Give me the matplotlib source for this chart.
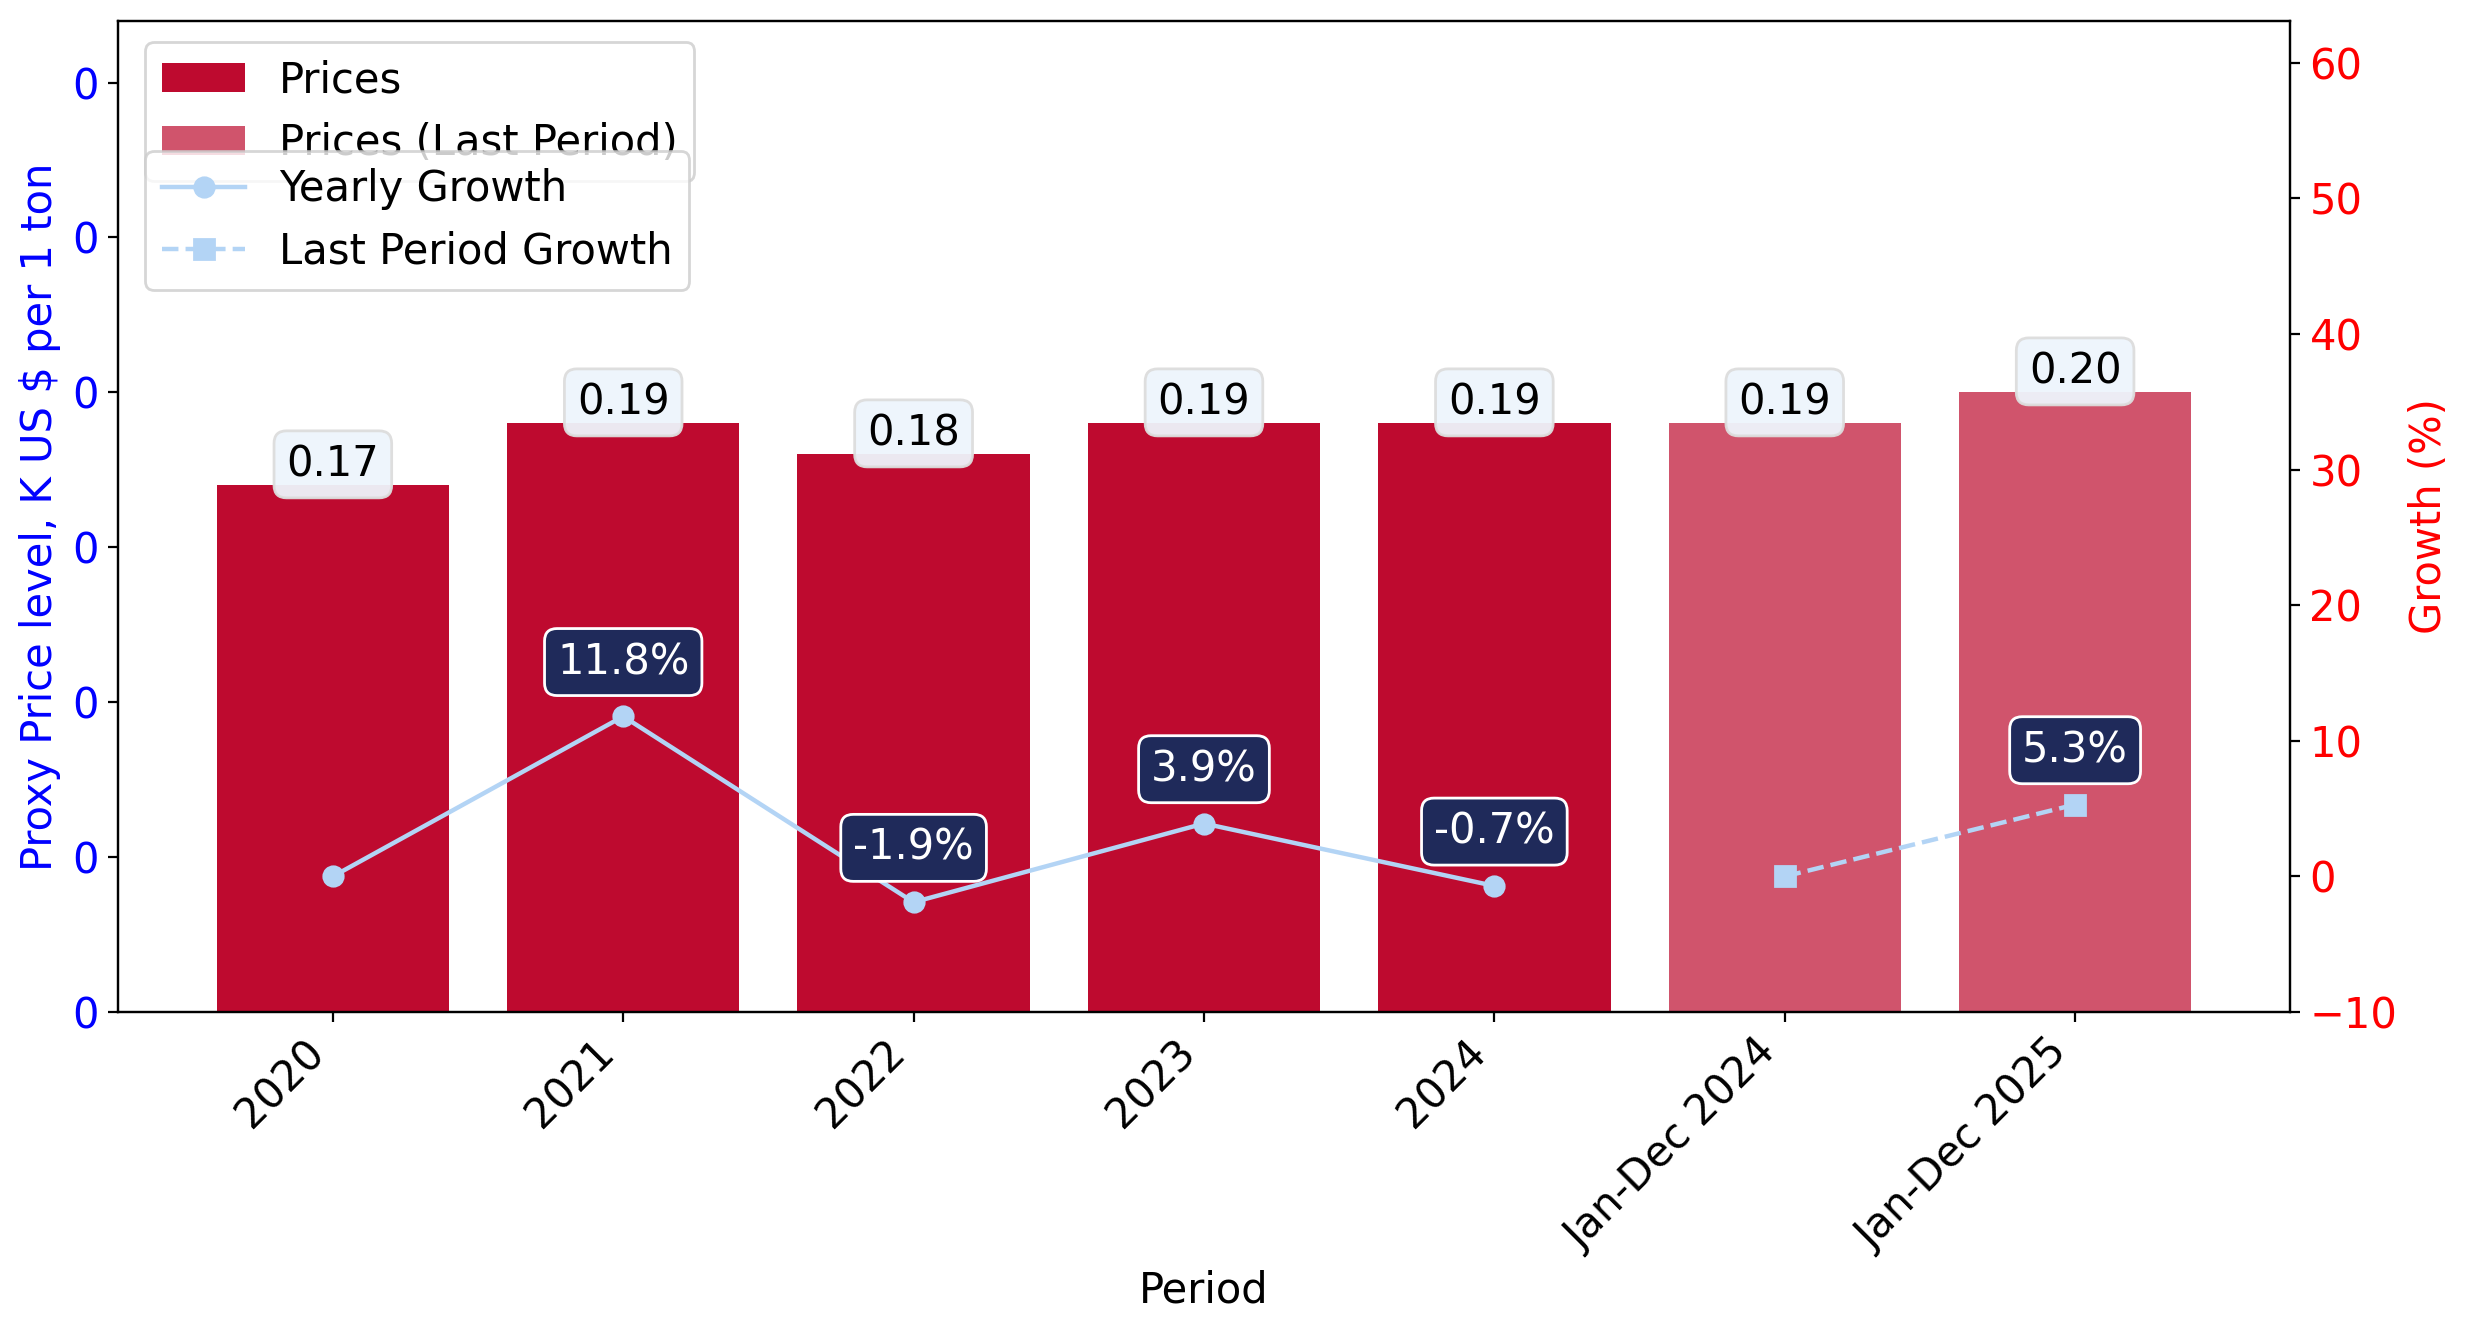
import matplotlib
matplotlib.use("Agg")
import matplotlib.pyplot as plt
from matplotlib.ticker import FormatStrFormatter
import numpy as np

periods = ["2020", "2021", "2022", "2023", "2024", "Jan-Dec 2024", "Jan-Dec 2025"]
prices = [0.17, 0.19, 0.18, 0.19, 0.19, 0.19, 0.20]
is_last = [False, False, False, False, False, True, True]
yearly_growth = [0.0, 11.8, -1.9, 3.9, -0.7]
last_growth = [0.0, 5.3]

plt.rcParams['font.family'] = ['DejaVu Sans']
FS = 15
fig = plt.figure(figsize=(12.365, 6.69), dpi=200)
ax = fig.add_axes([0.0477, 0.2436, 0.8783, 0.741])

x = np.arange(len(periods))
bar_color = "#BE0A2F"
last_color = "#D0546C"

main_idx = [i for i in range(len(periods)) if not is_last[i]]
last_idx = [i for i in range(len(periods)) if is_last[i]]
b1 = ax.bar([x[i] for i in main_idx], [prices[i] for i in main_idx], width=0.8, color=bar_color, label="Prices")
b2 = ax.bar([x[i] for i in last_idx], [prices[i] for i in last_idx], width=0.8, color=last_color, label="Prices (Last Period)")

for i, v in enumerate(prices):
    ax.text(x[i], v, f"{v:.2f}", ha="center", va="bottom", fontsize=FS, color="black",
            bbox=dict(boxstyle="round,pad=0.3", facecolor="#EEF5FC", edgecolor="#DDDDDD", alpha=0.95), zorder=5)

ax.set_ylim(0, 0.32)
ax.set_yticks(np.arange(0, 0.31, 0.05))
ax.yaxis.set_major_formatter(FormatStrFormatter('%.0f'))
ax.set_xticks(x)
ax.set_xticklabels(periods, rotation=45, ha="right", fontsize=FS)
ax.tick_params(axis='y', labelcolor='blue', labelsize=FS)
ax.set_ylabel("Proxy Price level, K US $ per 1 ton", color='blue', fontsize=FS)
ax.set_xlabel("Period", fontsize=FS)

ax2 = ax.twinx()
line_color = "#B3D4F5"
yx = x[:len(yearly_growth)]
lx = x[len(yearly_growth):]
l1, = ax2.plot(yx, yearly_growth, color=line_color, marker='o', markersize=7, linewidth=1.6, label="Yearly Growth")
l2, = ax2.plot(lx, last_growth, color=line_color, marker='s', markersize=7, linewidth=1.6, linestyle='--', label="Last Period Growth")

for xs, gs in ((yx, yearly_growth), (lx, last_growth)):
    for xi, g in zip(xs, gs):
        if g != 0:
            ax2.annotate(f"{g:.1f}%", (xi, g), xytext=(0, 12), textcoords="offset points",
                         ha="center", va="bottom", fontsize=FS, color="white",
                         bbox=dict(boxstyle="round,pad=0.3", facecolor="#1F2A5A", edgecolor="white"), zorder=6)

ax2.set_ylim(-10, 63.1)
ax2.set_yticks(np.arange(-10, 61, 10))
ax2.tick_params(axis='y', labelcolor='red', labelsize=FS)
ax2.set_ylabel("Growth (%)", color='red', fontsize=FS)

leg1 = ax.legend(handles=[b1, b2], loc="upper left", bbox_to_anchor=(0.003, 0.999), fontsize=FS)
leg2 = ax2.legend(handles=[l1, l2], loc="upper left", bbox_to_anchor=(0.003, 0.889), fontsize=FS)

fig.savefig("out.png", dpi=200)
